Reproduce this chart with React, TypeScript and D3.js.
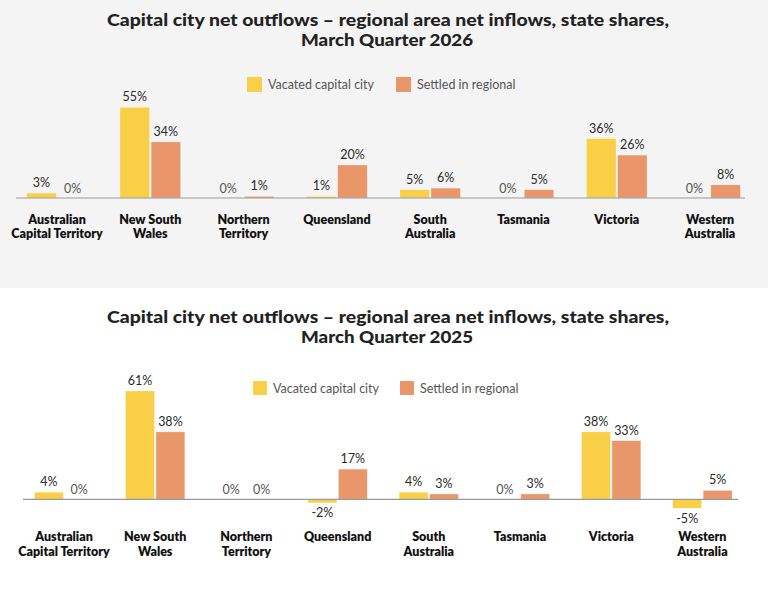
import React from "react";
import * as d3 from "d3";

const categories = [
  "Australian Capital Territory",
  "New South Wales",
  "Northern Territory",
  "Queensland",
  "South Australia",
  "Tasmania",
  "Victoria",
  "Western Australia",
];
const categoryLines = [
  ["Australian", "Capital Territory"],
  ["New South", "Wales"],
  ["Northern", "Territory"],
  ["Queensland"],
  ["South", "Australia"],
  ["Tasmania"],
  ["Victoria"],
  ["Western", "Australia"],
];
const seriesNames = ["Vacated capital city", "Settled in regional"];
const vacated2026 = [3, 55, 0, 1, 5, 0, 36, 0];
const settled2026 = [0, 34, 1, 20, 6, 5, 26, 8];
const vacated2025 = [4, 61, 0, -2, 4, 0, 38, -5];
const settled2025 = [0, 38, 0, 17, 3, 3, 33, 5];
const titleLine1 = "Capital city net outflows – regional area net inflows, state shares,";
const titles = ["March Quarter 2026", "March Quarter 2025"];

const COLORS = ["#F8CF47", "#E9966A"];
const FONT = "Lato, 'DejaVu Sans', sans-serif";

type PanelProps = {
  y0: number;
  height: number;
  bg: string;
  title2: string;
  titleBase: number;
  legendY: number;
  legendX: [number, number];
  legendSize: number;
  baseline: number;
  pxPerUnit: number;
  bandRange: [number, number];
  axisX: [number, number];
  catY: number;
  vac: number[];
  set: number[];
};

function Panel(p: PanelProps) {
  const x = d3
    .scaleBand<string>()
    .domain(categories)
    .range(p.bandRange)
    .paddingInner(0.35)
    .paddingOuter(0.175);
  const xs = d3
    .scaleBand<string>()
    .domain(["v", "s"])
    .range([0, x.bandwidth()])
    .paddingInner(0.05);
  const y = d3
    .scaleLinear()
    .domain([0, 10])
    .range([p.baseline, p.baseline - 10 * p.pxPerUnit]);
  const series = [p.vac, p.set];
  return (
    <g>
      <rect x={0} y={p.y0} width={768} height={p.height} fill={p.bg} />
      <text
        x={388}
        y={p.titleBase}
        textAnchor="middle"
        fontFamily={FONT}
        fontWeight={900}
        fontSize={16.5}
        fill="#222"
        textLength={562}
        lengthAdjust="spacingAndGlyphs"
      >
        {titleLine1}
      </text>
      <text
        x={387}
        y={p.titleBase + 20}
        textAnchor="middle"
        fontFamily={FONT}
        fontWeight={900}
        fontSize={16.5}
        fill="#222"
        textLength={172}
        lengthAdjust="spacingAndGlyphs"
      >
        {p.title2}
      </text>
      {seriesNames.map((s, i) => (
        <g key={s}>
          <rect
            x={p.legendX[i]}
            y={p.legendY}
            width={p.legendSize}
            height={p.legendSize}
            fill={COLORS[i]}
          />
          <text
            x={p.legendX[i] + p.legendSize + 6}
            y={p.legendY + p.legendSize / 2 + 4.5}
            fontFamily={FONT}
            fontSize={12.5}
            fill="#555"
          >
            {s}
          </text>
        </g>
      ))}
      {categories.map((c, ci) => (
        <g key={c}>
          {series.map((vals, si) => {
            const v = vals[ci];
            const bx = (x(c) ?? 0) + (xs(si === 0 ? "v" : "s") ?? 0);
            const top = Math.min(y(v), y(0));
            const h = Math.abs(y(v) - y(0));
            const lx = bx + xs.bandwidth() / 2;
            const ly = v < 0 ? y(v) + 14.5 : v === 0 ? y(0) - 5 : y(v) - 6;
            return (
              <g key={si}>
                {h > 0 && (
                  <rect
                    x={bx}
                    y={top}
                    width={xs.bandwidth()}
                    height={h}
                    fill={COLORS[si]}
                    stroke="#fff"
                    strokeOpacity={0.5}
                    strokeWidth={0.6}
                  />
                )}
                <text
                  x={lx}
                  y={ly}
                  textAnchor="middle"
                  fontFamily={FONT}
                  fontSize={12.5}
                  fill={v === 0 ? "#555" : "#2a2a2a"}
                >
                  {v}%
                </text>
              </g>
            );
          })}
          {categoryLines[ci].map((line, li) => (
            <text
              key={li}
              x={(x(c) ?? 0) + x.bandwidth() / 2}
              y={p.catY + li * 14.5}
              textAnchor="middle"
              fontFamily={FONT}
              fontWeight={800}
              fontSize={12.5}
              fill="#111"
            >
              {line}
            </text>
          ))}
        </g>
      ))}
      <line
        x1={p.axisX[0]}
        x2={p.axisX[1]}
        y1={y(0)}
        y2={y(0)}
        stroke="#9a9a9a"
        strokeWidth={1.2}
      />
    </g>
  );
}

export default function App() {
  return (
    <svg
      width={768}
      height={592}
      style={{ position: "absolute", left: 0, top: 0, background: "#fff" }}
    >
      <Panel
        y0={0}
        height={288}
        bg="#f4f4f4"
        title2={titles[0]}
        titleBase={25.5}
        legendY={77}
        legendX={[247, 396]}
        legendSize={15}
        baseline={198}
        pxPerUnit={1.65}
        bandRange={[10.4, 756.7]}
        axisX={[16, 745]}
        catY={223.5}
        vac={vacated2026}
        set={settled2026}
      />
      <Panel
        y0={288}
        height={304}
        bg="#ffffff"
        title2={titles[1]}
        titleBase={323}
        legendY={381}
        legendX={[253, 400]}
        legendSize={14}
        baseline={499.3}
        pxPerUnit={1.776}
        bandRange={[18.4, 748]}
        axisX={[23, 738]}
        catY={541}
        vac={vacated2025}
        set={settled2025}
      />
    </svg>
  );
}
